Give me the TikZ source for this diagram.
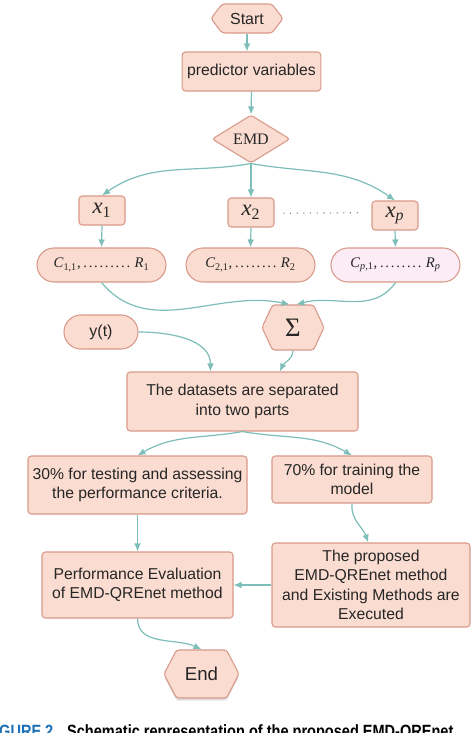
\documentclass[tikz,border=0pt]{standalone}
\usepackage{fontspec}
\setmainfont{Liberation Sans}
\newfontfamily\serifface{Liberation Serif}
\usepackage{graphicx}
\usetikzlibrary{shapes.geometric, shapes.misc, shapes.symbols, arrows.meta, shadows}
\definecolor{boxfill}{HTML}{FADCD0}
\definecolor{boxdraw}{HTML}{D9998A}
\definecolor{pinkfill}{HTML}{FBECF5}
\definecolor{tealarrow}{HTML}{7DBEB9}
\definecolor{capblue}{HTML}{1B6FB5}
\tikzset{
	basenode/.style={
			draw=boxdraw,
			fill=boxfill,
			line width=0.8pt,
			text=black!85,
			inner sep=0pt,
			align=center
		},
	boxnode/.style={
			basenode,
			shape=rectangle,
			rounded corners=2.5pt,
			font=\fontsize{11.8}{14.6}\selectfont
		},
	pillnode/.style={
			basenode,
			shape=rounded rectangle,
			minimum width=96.75pt,
			minimum height=25.5pt,
			font=\serifface\fontsize{11}{12}\selectfont
		},
	hexnode/.style={
			basenode,
			shape=signal,
			signal to=west and east,
			rounded corners=2pt
		},
	xnode/.style={
			boxnode,
			minimum width=34.5pt,
			minimum height=21.75pt,
			font=\serifface\itshape\fontsize{17}{18}\selectfont
		}
}
\tikzset{
	flowarrow/.style={
			draw=tealarrow,
			line width=0.9pt,
			-{Latex[length=6pt,width=5pt]}
		}
}
\newcommand{\dotrow}[1]{\foreach \k in {1,...,#1}{.\hspace{1.3pt}}}
\newcommand{\clabel}[3]{\textit{C}\textsubscript{#1,1},\hspace{2pt}\dotrow{#3}\hspace{2pt}\textit{R}\textsubscript{#2}}

\begin{document}
\begin{tikzpicture}[x=0.75pt, y=0.75pt]
			\fill[white] (0,0) rectangle (474,-733);
			\useasboundingbox (0,0) rectangle (474,-733);

			\node[hexnode, signal pointer angle=105, minimum width=54pt, minimum height=21.75pt, font=\fontsize{12}{14}\selectfont] (start) at (247,-18.5) {Start};
			\node[boxnode, minimum width=104pt, minimum height=29.25pt] (pred) at (251.5,-71.5) {predictor variables};
			\node[basenode, diamond, rounded corners=2pt, minimum width=58.5pt, minimum height=36pt, font=\serifface\fontsize{12}{14}\selectfont] (emd) at (251,-139) {EMD};

			\node[xnode] (x1) at (102,-210.5) {x\textsubscript{\upshape 1}};
			\node[xnode] (x2) at (251,-212.5) {x\textsubscript{\upshape 2}};
			\node[xnode] (xp) at (395,-215.5) {x\textsubscript{p}};

			\node[pillnode] (c1) at (101.5,-265) {\clabel{1}{1}{9}};
			\node[pillnode] (c2) at (250.5,-265) {\clabel{2}{2}{8}};
			\node[pillnode, fill=pinkfill] (cp) at (395.5,-265) {\clabel{\textit{p}}{\textit{p}}{8}};

			\node[hexnode, signal pointer angle=130, minimum width=46.5pt, minimum height=33.75pt, font=\serifface\fontsize{20}{22}\selectfont] (sig) at (293,-327.5) {Σ};
			\node[pillnode, minimum width=55.5pt, font=\fontsize{12}{14}\selectfont] (yt) at (101,-332) {y(t)};

			\node[boxnode, minimum width=173.25pt, minimum height=44.25pt] (data) at (242.5,-401.5) {The datasets are separated\\into two parts};
			\node[boxnode, minimum width=164.25pt, minimum height=43.5pt] (test) at (137.5,-485) {30\% for testing and assessing\\the performance criteria.};
			\node[boxnode, minimum width=120pt, minimum height=35.25pt] (train) at (352,-479.5) {70\% for training the\\model};
			\node[boxnode, minimum width=143.25pt, minimum height=49.5pt] (eval) at (137.5,-585) {Performance Evaluation\\of EMD-QREnet method};
			\node[boxnode, minimum width=148.5pt, minimum height=63pt] (prop) at (371,-585) {The proposed\\EMD-QREnet method\\and Existing Methods are\\Executed};
			\node[hexnode, signal pointer angle=125, minimum width=56.25pt, minimum height=36pt, font=\fontsize{14}{16}\selectfont,
				drop shadow={opacity=0.25, shadow xshift=0pt, shadow yshift=-2pt}] (fin) at (201.5,-674) {End};

			\node[anchor=north west, inner sep=0pt, font=\bfseries\fontsize{13.3}{15}\selectfont] (cap) at (-14,-724)
				{\scalebox{0.82}[1]{\color{capblue}FIGURE 2.\hspace{9pt}\color{black}Schematic representation of the proposed EMD-QREnet}};

			\draw[flowarrow] (start.south) -- (start.south |- pred.north);
			\draw[flowarrow] (pred.south) -- (emd.north);
			\draw[flowarrow] (emd.south) to[out=-170,in=35] (x1.north);
			\draw[flowarrow] (emd.south) -- (x2.north);
			\draw[flowarrow] (emd.south) to[out=-10,in=145] (xp.north);
			\draw[black!60, line width=1pt, line cap=round, dash pattern=on 0pt off 5pt] ([xshift=7pt,yshift=-0.5pt]x2.east) -- ([xshift=-10pt,yshift=2pt]xp.west);

			\draw[flowarrow] (x1.south) -- (c1.north);
			\draw[flowarrow] (x2.south) -- (c2.north);
			\draw[flowarrow] (xp.south) -- (cp.north);
			\draw[flowarrow] (c1.south) to[out=-50,in=168] ([xshift=-2.5pt]sig.north);
			\draw[flowarrow] (cp.south) to[out=-125,in=15] ([xshift=2.5pt]sig.north);

			\draw[flowarrow] (yt.east) to[out=0,in=90] ([xshift=-24pt]data.north);
			\draw[flowarrow] (sig.south) to[out=-95,in=65] ([xshift=28pt]data.north);

			\draw[flowarrow] (data.south) to[out=-170,in=30] (test.north);
			\draw[flowarrow] (data.south) to[out=-10,in=150] (train.north);
			\draw[flowarrow] (test.south) -- (eval.north);
			\draw[flowarrow] (train.south) to[out=-95,in=110] ([xshift=-2pt]prop.north);
			\draw[flowarrow] (prop.west) -- (eval.east);
			\draw[flowarrow] (eval.south) to[out=-90,in=155] (fin.north);

		\end{tikzpicture}
\end{document}
